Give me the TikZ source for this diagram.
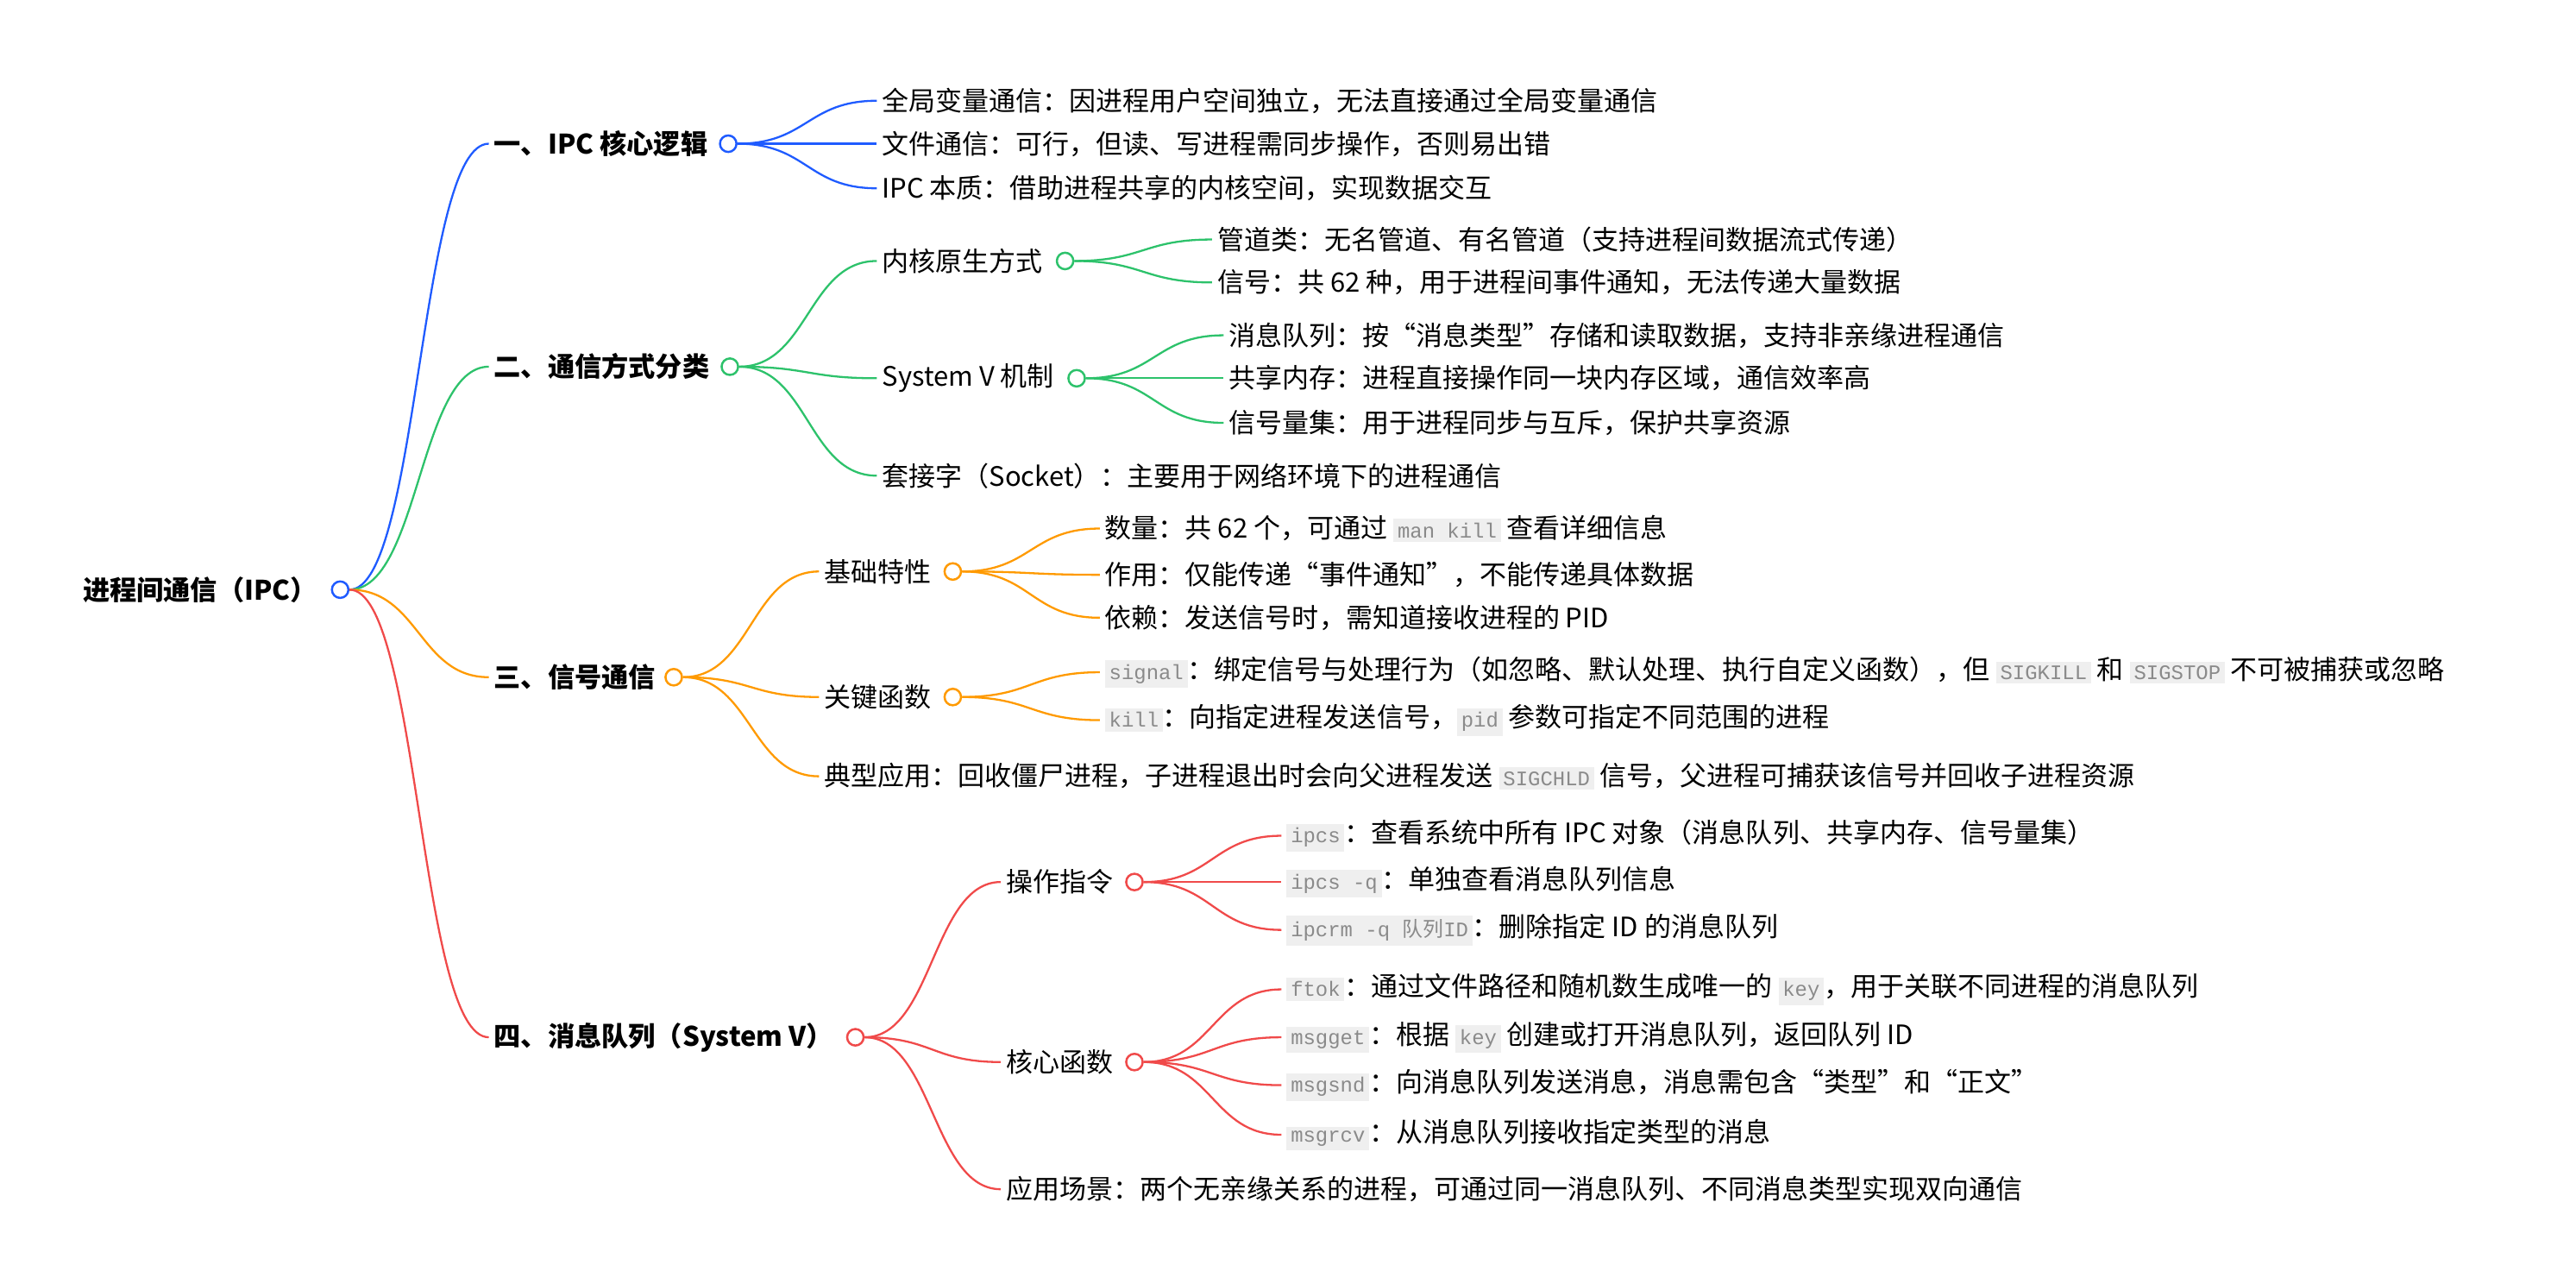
\documentclass[tikz,border=0pt]{standalone}
\usepackage{fontspec}
\setmainfont{Noto Sans CJK SC}
\newfontfamily\codefont{Liberation Mono}
\newfontfamily\cjkfont{Noto Sans CJK SC}
\usetikzlibrary{calc}
\definecolor{cb}{HTML}{1F5BFF}
\definecolor{cg}{HTML}{2DC26B}
\definecolor{co}{HTML}{FF9A00}
\definecolor{cr}{HTML}{F04A4A}
\definecolor{codebg}{HTML}{EFEFEF}
\definecolor{codefg}{HTML}{8A8A8A}
\newcommand{\cd}[1]{{\setlength\fboxsep{2.5pt}\colorbox{codebg}{\textcolor{codefg}{\codefont\fontsize{12.5}{13}\selectfont #1}}}}
\newcommand{\conn}[3]{\draw[#1,line width=1.2pt] let \p1=(#2.east), \p2=(#3.west) in (\p1) .. controls ({(\x1+\x2)/2},\y1) and ({(\x1+\x2)/2},\y2) .. (\p2);}
\tikzset{
  txt/.style={anchor=west,inner sep=3pt,font=\fontsize{16.2}{18}\selectfont},
  hd/.style={anchor=west,inner sep=3pt,font=\fontsize{16.3}{18}\selectfont\bfseries},
  dot/.style={circle,draw=#1,fill=white,line width=1.3pt,minimum size=10pt,inner sep=0pt}
}
\begin{document}
\begin{tikzpicture}[x=1pt,y=-1pt]
\useasboundingbox (0,0) rectangle (1560,777);
% root
\node[hd] (root) at (47,357) {进程间通信（IPC）};
\node[dot=cb] (rc) at (206,357) {};
% level 1
\node[hd] (a) at (296,87) {一、IPC 核心逻辑};
\node[dot=cb] (ac) at (441,87) {};
\node[hd] (b) at (296,222) {二、通信方式分类};
\node[dot=cg] (bc) at (442,222) {};
\node[hd] (c) at (296,410) {三、信号通信};
\node[dot=co] (cc) at (408,410) {};
\node[hd] (d) at (296,628) {四、消息队列（System V）};
\node[dot=cr] (dc) at (518,628) {};
\conn{cb}{rc}{a}\conn{cg}{rc}{b}\conn{co}{rc}{c}\conn{cr}{rc}{d}
% section 1
\node[txt] (a1) at (531,61) {全局变量通信：因进程用户空间独立，无法直接通过全局变量通信};
\node[txt] (a2) at (531,87) {文件通信：可行，但读、写进程需同步操作，否则易出错};
\node[txt] (a3) at (531,114) {IPC 本质：借助进程共享的内核空间，实现数据交互};
\conn{cb}{ac}{a1}\conn{cb}{ac}{a2}\conn{cb}{ac}{a3}
% section 2
\node[txt] (b1) at (531,158) {内核原生方式};
\node[dot=cg] (b1c) at (645,158) {};
\node[txt] (b2) at (531,229) {System V 机制};
\node[dot=cg] (b2c) at (652,229) {};
\node[txt] (b3) at (531,288) {套接字（Socket）：主要用于网络环境下的进程通信};
\conn{cg}{bc}{b1}\conn{cg}{bc}{b2}\conn{cg}{bc}{b3}
\node[txt] (b11) at (734,145) {管道类：无名管道、有名管道（支持进程间数据流式传递）};
\node[txt] (b12) at (734,171) {信号：共 62 种，用于进程间事件通知，无法传递大量数据};
\conn{cg}{b1c}{b11}\conn{cg}{b1c}{b12}
\node[txt] (b21) at (741,203) {消息队列：按“消息类型”存储和读取数据，支持非亲缘进程通信};
\node[txt] (b22) at (741,229) {共享内存：进程直接操作同一块内存区域，通信效率高};
\node[txt] (b23) at (741,256) {信号量集：用于进程同步与互斥，保护共享资源};
\conn{cg}{b2c}{b21}\conn{cg}{b2c}{b22}\conn{cg}{b2c}{b23}
% section 3
\node[txt] (c1) at (496,346) {基础特性};
\node[dot=co] (c1c) at (577,346) {};
\node[txt] (c2) at (496,422) {关键函数};
\node[dot=co] (c2c) at (577,422) {};
\node[txt] (c3) at (496,470) {典型应用：回收僵尸进程，子进程退出时会向父进程发送 \cd{SIGCHLD} 信号，父进程可捕获该信号并回收子进程资源};
\conn{co}{cc}{c1}\conn{co}{cc}{c2}\conn{co}{cc}{c3}
\node[txt] (c11) at (666,320) {数量：共 62 个，可通过 \cd{man kill} 查看详细信息};
\node[txt] (c12) at (666,348) {作用：仅能传递“事件通知”，不能传递具体数据};
\node[txt] (c13) at (666,374) {依赖：发送信号时，需知道接收进程的 PID};
\conn{co}{c1c}{c11}\conn{co}{c1c}{c12}\conn{co}{c1c}{c13}
\node[txt] (c21) at (666,407) {\cd{signal}：绑定信号与处理行为（如忽略、默认处理、执行自定义函数），但 \cd{SIGKILL} 和 \cd{SIGSTOP} 不可被捕获或忽略};
\node[txt] (c22) at (666,436) {\cd{kill}：向指定进程发送信号，\cd{pid} 参数可指定不同范围的进程};
\conn{co}{c2c}{c21}\conn{co}{c2c}{c22}
% section 4
\node[txt] (d1) at (606,534) {操作指令};
\node[dot=cr] (d1c) at (687,534) {};
\node[txt] (d2) at (606,643) {核心函数};
\node[dot=cr] (d2c) at (687,643) {};
\node[txt] (d3) at (606,720) {应用场景：两个无亲缘关系的进程，可通过同一消息队列、不同消息类型实现双向通信};
\conn{cr}{dc}{d1}\conn{cr}{dc}{d2}\conn{cr}{dc}{d3}
\node[txt] (d11) at (776,506) {\cd{ipcs}：查看系统中所有 IPC 对象（消息队列、共享内存、信号量集）};
\node[txt] (d12) at (776,534) {\cd{ipcs -q}：单独查看消息队列信息};
\node[txt] (d13) at (776,563) {\cd{ipcrm -q {\cjkfont 队列}ID}：删除指定 ID 的消息队列};
\conn{cr}{d1c}{d11}\conn{cr}{d1c}{d12}\conn{cr}{d1c}{d13}
\node[txt] (d21) at (776,599) {\cd{ftok}：通过文件路径和随机数生成唯一的 \cd{key}，用于关联不同进程的消息队列};
\node[txt] (d22) at (776,628) {\cd{msgget}：根据 \cd{key} 创建或打开消息队列，返回队列 ID};
\node[txt] (d23) at (776,657) {\cd{msgsnd}：向消息队列发送消息，消息需包含“类型”和“正文”};
\node[txt] (d24) at (776,687) {\cd{msgrcv}：从消息队列接收指定类型的消息};
\conn{cr}{d2c}{d21}\conn{cr}{d2c}{d22}\conn{cr}{d2c}{d23}\conn{cr}{d2c}{d24}
\end{tikzpicture}
\end{document}
